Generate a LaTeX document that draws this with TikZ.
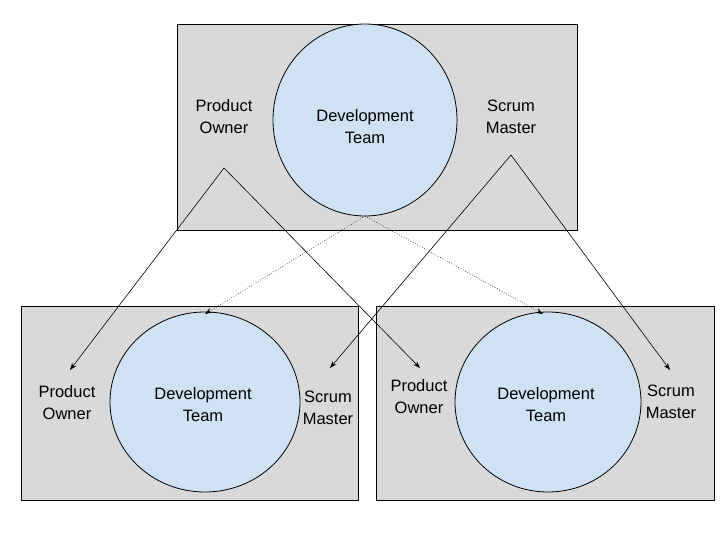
\documentclass[tikz,border=0pt]{standalone}
\usepackage{fontspec}
\setmainfont{Liberation Sans}
\usetikzlibrary{arrows.meta}
\definecolor{teamblue}{RGB}{207,226,243}
\definecolor{boxgray}{RGB}{217,217,217}
\begin{document}
\begin{tikzpicture}[x=1pt,y=-1pt,
 box/.style={draw,fill=boxgray,line width=0.6pt},
 team/.style={draw,fill=teamblue,line width=0.8pt},
 lbl/.style={align=center,font=\fontsize{16.5}{22}\selectfont,inner sep=0pt},
 arr/.style={-{Stealth[length=7pt,width=5pt]},line width=0.6pt},
 dot/.style={arr,dotted}]
\useasboundingbox (0,0) rectangle (720,540);
\fill[white] (0,0) rectangle (720,540);
\draw[box] (177,24) rectangle (577,230);
\draw[box] (21,306) rectangle (358,500);
\draw[box] (376,306) rectangle (714,500);
\draw[team] (365,120) ellipse [x radius=92,y radius=96];
\draw[team] (205,402) ellipse [x radius=95,y radius=90];
\draw[team] (548,402) ellipse [x radius=93,y radius=90];
\node[lbl] (dt) at (365,127) {Development\\Team};
\node[lbl] (po) at (224,117) {Product\\Owner};
\node[lbl] (sm) at (511,117) {Scrum\\Master};
\node[lbl] (dtl) at (203,405) {Development\\Team};
\node[lbl] (pol) at (67,403) {Product\\Owner};
\node[lbl] (sml) at (328,408) {Scrum\\Master};
\node[lbl] (dtr) at (546,405) {Development\\Team};
\node[lbl] (por) at (419,397) {Product\\Owner};
\node[lbl] (smr) at (671,402) {Scrum\\Master};
\coordinate (poA) at (224,168);
\coordinate (smA) at (511,155);
\coordinate (dtA) at (365,216);
\coordinate (polE) at (70,370);
\coordinate (porE) at (420,368);
\coordinate (smlE) at (330,368);
\coordinate (smrE) at (670,370);
\coordinate (dtlE) at (205,314);
\coordinate (dtrE) at (543,314);
\draw[arr] (poA) -- (polE);
\draw[arr] (poA) -- (porE);
\draw[arr] (smA) -- (smlE);
\draw[arr] (smA) -- (smrE);
\draw[dot] (dtA) -- (dtlE);
\draw[dot] (dtA) -- (dtrE);
\end{tikzpicture}
\end{document}
